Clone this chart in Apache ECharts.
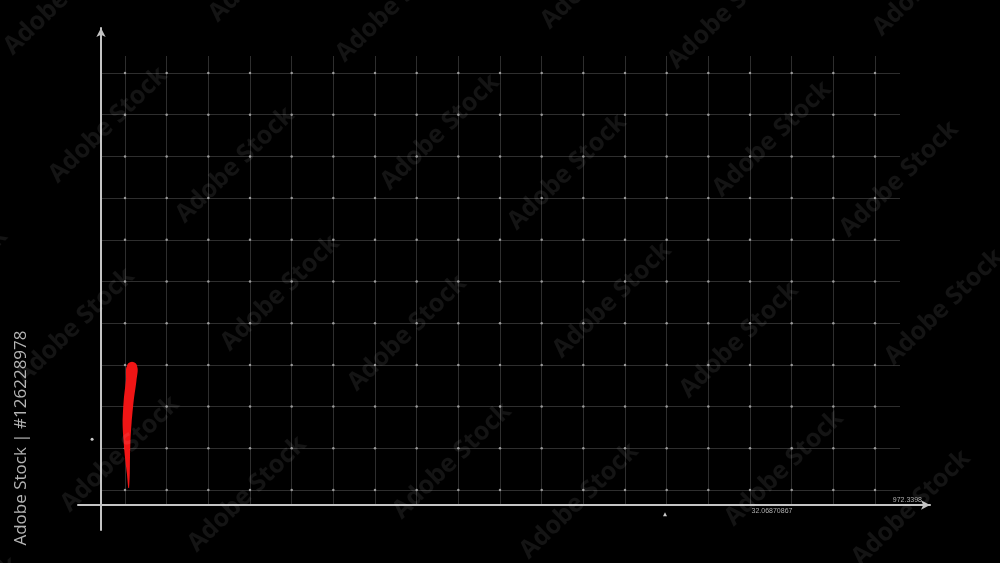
<!DOCTYPE html>
<html>
<head>
<meta charset="utf-8">
<script src="https://cdn.jsdelivr.net/npm/echarts@6.0.0/dist/echarts.min.js"></script>
<style>
html,body{margin:0;padding:0;background:#000;}
#chart{width:1000px;height:563px;}
</style>
</head>
<body>
<div id="chart"></div>
<script>
// ---- data ----
const gridCols = 18;           // number of vertical grid cells
const gridRows = 10;           // number of horizontal grid cells
const strokeX = [0.168, 0.15, 0.09, 0.05, 0.048, 0.06, 0.08, 0.089];
const strokeY = [2.95, 2.64, 2.16, 1.61, 1.2, 0.79, 0.41, 0.05];
const axisValueLabels = ['972.3398', '32.06870867'];
const extraDot = [[-0.79, 1.22]];
const extraTriangle = [[12.96, -0.58]];
const creditText = 'Adobe Stock | #126228978';
const watermarkText = 'Adobe Stock';

// ---- styles ----
const strokeWidths = [10.5, 10.5, 10, 9, 7, 5, 3, 0.8];
const gridColor = '#2e2e2e';
const axisColor = '#c4c4c4';

const chart = echarts.init(document.getElementById('chart'), null, {renderer: 'canvas'});

const strokeData = strokeX.map(function (x, i) { return [x, strokeY[i]]; });

function renderStroke(params, api) {
  if (params.dataIndex !== 0) return null;
  const pts = strokeData.map(function (d) { return api.coord(d); });
  const n = pts.length;
  const left = [], right = [];
  for (let i = 0; i < n; i++) {
    const a = pts[Math.max(0, i - 1)], b = pts[Math.min(n - 1, i + 1)];
    let tx = b[0] - a[0], ty = b[1] - a[1];
    const len = Math.sqrt(tx * tx + ty * ty) || 1;
    tx /= len; ty /= len;
    const nx = -ty, ny = tx;
    const h = strokeWidths[i] / 2;
    left.push([pts[i][0] + nx * h, pts[i][1] + ny * h]);
    right.push([pts[i][0] - nx * h, pts[i][1] - ny * h]);
  }
  const poly = left.concat(right.reverse());
  return {
    type: 'group',
    children: [
      {type: 'polygon', shape: {points: poly, smooth: 0.25}, style: {fill: '#f01515'}},
      {type: 'circle', shape: {cx: pts[0][0], cy: pts[0][1], r: strokeWidths[0] / 2}, style: {fill: '#f01515'}}
    ]
  };
}

const series = [];
series.push({
  type: 'custom', xAxisIndex: 2, yAxisIndex: 2, data: strokeData, renderItem: renderStroke,
  clip: false, silent: true, z: 5
});
const dots = [];
for (let c = 0; c <= gridCols; c++) for (let r = 0; r <= gridRows; r++) dots.push([c, r]);
series.push({
  type: 'scatter', xAxisIndex: 2, yAxisIndex: 2, data: dots, symbolSize: 2.5,
  itemStyle: {color: '#b8b8b8'}, silent: true, z: 3, clip: false
});
series.push({
  type: 'scatter', xAxisIndex: 2, yAxisIndex: 2, data: extraDot, symbolSize: 3,
  itemStyle: {color: '#ffffff'}, silent: true, clip: false
});
series.push({
  type: 'scatter', xAxisIndex: 2, yAxisIndex: 2, data: extraTriangle, symbol: 'triangle', symbolSize: 4,
  itemStyle: {color: '#ffffff'}, silent: true, clip: false
});

// watermark lattice
const graphics = [];
for (let i = -2; i <= 4; i++) {
  for (let j = -2; j <= 4; j++) {
    const bx = 108 + i * 332 + j * 172;
    const by = 125 + i * 7 + j * 168;
    [[bx, by], [bx + 127, by + 40]].forEach(function (p) {
      if (p[0] > -120 && p[0] < 1120 && p[1] > -100 && p[1] < 663) {
        graphics.push({
          type: 'text', x: p[0], y: p[1], rotation: 0.77, z: 100, silent: true,
          style: {text: watermarkText, fill: 'rgba(255,255,255,0.08)', font: 'bold 25px "Open Sans"',
                  textAlign: 'center', textVerticalAlign: 'middle'}
        });
      }
    });
  }
}
graphics.push({
  type: 'text', x: 21, y: 438, rotation: Math.PI / 2, z: 101,
  style: {text: creditText, fill: '#b4b4b4', font: '17px "Open Sans"', textAlign: 'center', textVerticalAlign: 'middle'}
});
graphics.push({
  type: 'text', x: 922, y: 500, z: 101,
  style: {text: axisValueLabels[0], fill: '#b0b0b0', font: '7px "Liberation Sans"', textAlign: 'right', textVerticalAlign: 'middle'}
});
graphics.push({
  type: 'text', x: 772, y: 511, z: 101,
  style: {text: axisValueLabels[1], fill: '#b0b0b0', font: '7px "Liberation Sans"', textAlign: 'center', textVerticalAlign: 'middle'}
});

const hidden = {axisLine: {show: false}, axisTick: {show: false}, axisLabel: {show: false}, splitLine: {show: false}};

chart.setOption({
  backgroundColor: '#000',
  animation: false,
  grid: [
    {left: 125, right: 125, top: 56, bottom: 58},
    {left: 100, right: 100, top: 73, bottom: 73},
    {left: 125, right: 125, top: 73, bottom: 73},
    {left: 78, right: 70, top: 28, bottom: 33}
  ],
  xAxis: [
    Object.assign({}, hidden, {gridIndex: 0, type: 'value', min: 0, max: gridCols, interval: 1,
      splitLine: {show: true, showMinLine: true, showMaxLine: true, lineStyle: {color: gridColor, width: 1}}}),
    Object.assign({}, hidden, {gridIndex: 1, type: 'value', min: 0, max: 1}),
    Object.assign({}, hidden, {gridIndex: 2, type: 'value', min: 0, max: gridCols, interval: 1}),
    Object.assign({}, hidden, {gridIndex: 3, type: 'value', min: -23, max: 829,
      axisLine: {show: true, onZero: true, symbol: ['none', 'arrow'], symbolSize: [7, 9],
        lineStyle: {color: axisColor, width: 2}}})
  ],
  yAxis: [
    Object.assign({}, hidden, {gridIndex: 0, type: 'value', min: 0, max: 1}),
    Object.assign({}, hidden, {gridIndex: 1, type: 'value', min: 0, max: gridRows, interval: 1,
      splitLine: {show: true, showMinLine: true, showMaxLine: true, lineStyle: {color: gridColor, width: 1}}}),
    Object.assign({}, hidden, {gridIndex: 2, type: 'value', min: 0, max: gridRows, interval: 1}),
    Object.assign({}, hidden, {gridIndex: 3, type: 'value', min: -25, max: 477,
      axisLine: {show: true, onZero: true, symbol: ['none', 'arrow'], symbolSize: [7, 9],
        lineStyle: {color: axisColor, width: 2}}})
  ],
  graphic: graphics,
  series: series
});
</script>
</body>
</html>
